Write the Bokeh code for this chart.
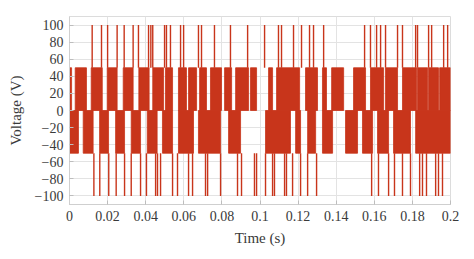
import numpy as np
from bokeh.plotting import figure
from bokeh.models import FixedTicker, Range1d
from bokeh.embed import file_html
from bokeh.resources import INLINE

# ---- data (seconds / volts) ----
levels = [-100, -50, 0, 50, 100]

# intervals of fast switching between 0 and +50 V
upper_start = [0.0000, 0.0030, 0.0114, 0.0198, 0.0282, 0.0364, 0.0437, 0.0504, 0.0572, 0.0625,
               0.0683, 0.0740, 0.0814, 0.0872, 0.0950, 0.1045, 0.1087, 0.1239, 0.1328, 0.1376,
               0.1491, 0.1580, 0.1659, 0.1748, 0.1827, 0.1885, 0.1943]
upper_end = [0.0011, 0.0089, 0.0172, 0.0250, 0.0334, 0.0418, 0.0494, 0.0541, 0.0614, 0.0667,
             0.0719, 0.0798, 0.0851, 0.0940, 0.0982, 0.1066, 0.1208, 0.1302, 0.1349, 0.1439,
             0.1554, 0.1649, 0.1722, 0.1822, 0.1880, 0.1937, 0.2000]

# intervals of fast switching between 0 and -50 V
lower_start = [0.0000, 0.0072, 0.0158, 0.0242, 0.0324, 0.0408, 0.0488, 0.0572, 0.0677, 0.0835,
               0.1029, 0.1187, 0.1250, 0.1328, 0.1449, 0.1538, 0.1617, 0.1701, 0.1817]
lower_end = [0.0047, 0.0124, 0.0205, 0.0289, 0.0373, 0.0460, 0.0541, 0.0651, 0.0793, 0.0898,
             0.1160, 0.1213, 0.1292, 0.1381, 0.1512, 0.1591, 0.1675, 0.1790, 0.2000]

# pulses reaching +100 V
up_pulse_t = [0.0119, 0.0168, 0.0200, 0.0250, 0.0287, 0.0334, 0.0362, 0.0415, 0.0427, 0.0437,
              0.0499, 0.0509, 0.0530, 0.0583, 0.0599, 0.0677, 0.0693, 0.0761, 0.0845, 0.0935,
              0.1024, 0.1097, 0.1113, 0.1176, 0.1218, 0.1260, 0.1281, 0.1334, 0.1549, 0.1580,
              0.1612, 0.1633, 0.1659, 0.1722, 0.1748, 0.1817, 0.1827, 0.1885, 0.1901, 0.1964,
              0.1985]

# pulses reaching -100 V
down_pulse_t = [0.0128, 0.0159, 0.0206, 0.0245, 0.0289, 0.0324, 0.0373, 0.0404, 0.0452, 0.0462,
                0.0478, 0.0541, 0.0567, 0.0625, 0.0646, 0.0714, 0.0725, 0.0793, 0.0882, 0.0903,
                0.0971, 0.0982, 0.1029, 0.1066, 0.1076, 0.1129, 0.1139, 0.1171, 0.1213, 0.1250,
                0.1297, 0.1586, 0.1622, 0.1675, 0.1706, 0.1748, 0.1790, 0.1838, 0.1853, 0.1874,
                0.1922, 0.1937, 0.1958]

x_ticks = [0, 0.02, 0.04, 0.06, 0.08, 0.1, 0.12, 0.14, 0.16, 0.18, 0.2]
x_tick_labels = ["0", "0.02", "0.04", "0.06", "0.08", "0.1", "0.12", "0.14", "0.16", "0.18", "0.2"]
y_ticks = [-100, -80, -60, -40, -20, 0, 20, 40, 60, 80, 100]
y_tick_labels = ["\u2212100", "\u221280", "\u221260", "\u221240", "\u221220", "0", "20", "40", "60", "80", "100"]

# ---- figure ----
RED = "#c8351b"
FONT = "Liberation Serif"
TXT = "#3a3a3a"

p = figure(width=474, height=259, output_backend="svg", toolbar_location=None,
           x_range=Range1d(0, 0.2), y_range=Range1d(-110, 110),
           min_border_left=69, min_border_right=24, min_border_top=16, min_border_bottom=55)

p.quad(left=upper_start, right=upper_end, bottom=levels[2], top=levels[3],
       fill_color=RED, line_color=RED, line_width=0.8)
p.quad(left=lower_start, right=lower_end, bottom=levels[1], top=levels[2],
       fill_color=RED, line_color=RED, line_width=0.8)
p.segment(x0=up_pulse_t, y0=[levels[3]] * len(up_pulse_t), x1=up_pulse_t, y1=[levels[4]] * len(up_pulse_t),
          line_color=RED, line_width=1.4)
p.segment(x0=down_pulse_t, y0=[levels[1]] * len(down_pulse_t), x1=down_pulse_t, y1=[levels[0]] * len(down_pulse_t),
          line_color=RED, line_width=1.4)

p.xaxis.ticker = FixedTicker(ticks=x_ticks)
p.yaxis.ticker = FixedTicker(ticks=y_ticks)
p.xaxis.major_label_overrides = {t: s for t, s in zip(x_ticks, x_tick_labels)}
p.yaxis.major_label_overrides = {t: s for t, s in zip(y_ticks, y_tick_labels)}
p.xaxis.axis_label = "Time (s)"
p.yaxis.axis_label = "Voltage (V)"

for ax in (p.xaxis, p.yaxis):
    ax.axis_line_color = "#cfcfcf"
    ax.major_tick_line_color = "#bdbdbd"
    ax.major_tick_in = 4
    ax.major_tick_out = 0
    ax.minor_tick_line_color = None
    ax.major_label_text_font = FONT
    ax.major_label_text_font_size = "14px"
    ax.major_label_text_color = TXT
    ax.axis_label_text_font = FONT
    ax.axis_label_text_font_size = "15px"
    ax.axis_label_text_font_style = "normal"
    ax.axis_label_text_color = TXT
p.xaxis.major_label_standoff = 6
p.yaxis.major_label_standoff = 6
p.xaxis.axis_label_standoff = 6
p.yaxis.axis_label_standoff = 8

p.grid.grid_line_color = "#e3e3e3"
p.outline_line_color = "#dcdcdc"
p.background_fill_color = "white"
p.border_fill_color = "white"

open("out.html", "w").write(file_html(p, INLINE))
